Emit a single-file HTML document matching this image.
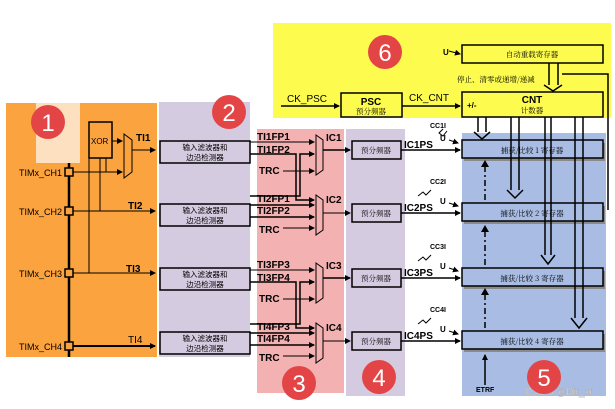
<!DOCTYPE html>
<html><head><meta charset="utf-8"><style>
html,body{margin:0;padding:0;background:#fff;width:615px;height:409px;overflow:hidden}
svg{display:block}
text{font-family:"Liberation Sans","Noto Sans CJK SC",sans-serif}
.b{font-weight:bold;font-size:10px}
.cn{font-family:"Noto Serif CJK SC","Noto Sans CJK SC",serif;font-size:7.5px}
</style></head><body>
<svg width="615" height="409" viewBox="0 0 615 409">
<defs>
<marker id="a" markerWidth="6" markerHeight="6" refX="5" refY="3" orient="auto" markerUnits="userSpaceOnUse"><path d="M0,0L6,3L0,6z" fill="#000"/></marker>
</defs>
<!-- regions -->
<rect x="6" y="103" width="151" height="254" fill="#fba33e"/>
<rect x="36" y="103" width="44" height="60" fill="#fde0c0"/>
<rect x="159" y="102" width="91" height="255" fill="#d5cbe0"/>
<rect x="273" y="23" width="338" height="95" fill="#fdfc4e"/>
<rect x="257" y="129" width="87" height="264" fill="#f3b1b1"/>
<rect x="346" y="129" width="59" height="267" fill="#d5cbe0"/>
<rect x="462" y="133" width="144" height="263" fill="#a9bde4"/>

<g stroke="#000" fill="none" stroke-width="1">
<!-- left bus -->
<line x1="69" y1="163" x2="69" y2="357" stroke-width="2.5"/>
<g fill="#fba33e" stroke-width="1.5">
<rect x="65" y="168" width="8" height="8"/><rect x="65" y="207" width="8" height="8"/>
<rect x="65" y="269" width="8" height="8"/><rect x="65" y="342" width="8" height="8"/>
</g>
<rect x="89" y="122" width="23" height="36" stroke-width="1.5"/>
<path d="M124,134 L132,140 L132,172 L124,178 Z"/>
<line x1="73" y1="172" x2="122" y2="172" marker-end="url(#a)"/>
<line x1="112" y1="141" x2="122" y2="141" marker-end="url(#a)"/>
<line x1="106" y1="158" x2="106" y2="172"/>
<line x1="100" y1="158" x2="100" y2="211"/>
<line x1="89" y1="158" x2="89" y2="273"/>
<line x1="132" y1="150" x2="155" y2="150" marker-end="url(#a)"/>
<line x1="73" y1="211" x2="155" y2="211" marker-end="url(#a)"/>
<line x1="73" y1="273" x2="155" y2="273" marker-end="url(#a)"/>
<line x1="73" y1="346" x2="155" y2="346" marker-end="url(#a)" stroke-width="2"/>
<!-- filter boxes -->
<g fill="#d5cbe0" stroke-width="1.5">
<rect x="160" y="141" width="90" height="22"/><rect x="160" y="204" width="90" height="22"/>
<rect x="160" y="268" width="90" height="22"/><rect x="160" y="332" width="90" height="22"/>
</g>
</g>
<g font-size="9" text-anchor="end">
<text x="62" y="176">TIMx_CH1</text><text x="62" y="215">TIMx_CH2</text>
<text x="62" y="277">TIMx_CH3</text><text x="62" y="350">TIMx_CH4</text>
</g>
<text x="91" y="144" font-size="8">XOR</text>
<text x="136" y="141" class="b">TI1</text><text x="128" y="209" class="b">TI2</text>
<text x="126" y="272" class="b">TI3</text><text x="128" y="343" font-size="10">TI4</text>
<g class="cn" text-anchor="middle">
<text x="205" y="150">输入滤波器和</text><text x="205" y="160">边沿检测器</text>
<text x="205" y="213">输入滤波器和</text><text x="205" y="223">边沿检测器</text>
<text x="205" y="277">输入滤波器和</text><text x="205" y="287">边沿检测器</text>
<text x="205" y="341">输入滤波器和</text><text x="205" y="351">边沿检测器</text>
</g>

<!-- channel template -->
<g id="ch">
<g stroke="#000" fill="none">
<line x1="250" y1="142" x2="314" y2="142" marker-end="url(#a)"/>
<path d="M250,154 L296,154 L296,200 L314,200" stroke-width="1.5" marker-end="url(#a)"/>
<line x1="283" y1="171" x2="314" y2="171" marker-end="url(#a)"/>
<path d="M316,135 L323,140 L323,170 L316,175 Z" fill="#f3b1b1"/>
<line x1="323" y1="150" x2="350" y2="150" stroke-width="1.5" marker-end="url(#a)"/>
<rect x="352" y="141" width="49" height="18" fill="#d5cbe0" stroke-width="1.5"/>
<line x1="401" y1="150" x2="460" y2="150" stroke-width="1.5" marker-end="url(#a)"/>
<rect x="464" y="143" width="141" height="18" fill="#8a8a8a" stroke="none"/>
<rect x="462" y="140" width="141" height="18" fill="#a9bde4" stroke-width="1.5"/>
<path d="M443,129 l-4,4 l4,3 l4,-5" />
<line x1="449" y1="140" x2="458" y2="143" marker-end="url(#a)"/>
</g>
<text x="257" y="140" class="b">TI1FP1</text>
<text x="257" y="153" class="b">TI1FP2</text>
<text x="259" y="174" class="b">TRC</text>
<text x="326" y="141" class="b">IC1</text>
<text x="404" y="148" class="b" font-size="11">IC1PS</text>
<text x="430" y="128" font-size="7" font-weight="bold">CC1I</text>
<text x="440" y="141" font-size="8" font-weight="bold">U</text>
<text x="376" y="153" class="cn" text-anchor="middle">预分频器</text>
<text x="532" y="153" class="cn" text-anchor="middle">捕获/比较 1 寄存器</text>
</g>
<g transform="translate(0,63)">
<g stroke="#000" fill="none">
<line x1="250" y1="142" x2="314" y2="142" marker-end="url(#a)" stroke-width="1.5"/>
<path d="M250,133 L300,133 L300,91 L314,91" stroke-width="1.5" marker-end="url(#a)"/>
<line x1="250" y1="154" x2="314" y2="154" stroke-width="1.5" marker-end="url(#a)"/>
<line x1="283" y1="165" x2="314" y2="165" marker-end="url(#a)"/>
<path d="M316,132 L323,137 L323,167 L316,172 Z" fill="#f3b1b1"/>
<line x1="323" y1="150" x2="350" y2="150" marker-end="url(#a)"/>
<rect x="352" y="141" width="49" height="18" fill="#d5cbe0" stroke-width="1.5"/>
<line x1="401" y1="150" x2="460" y2="150" stroke-width="1.5" marker-end="url(#a)"/>
<rect x="464" y="143" width="141" height="18" fill="#8a8a8a" stroke="none"/>
<rect x="462" y="140" width="141" height="18" fill="#a9bde4" stroke-width="1.5"/>
<path d="M418,133 l5,-4 l3,3 l5,-5"/><line x1="449" y1="140" x2="458" y2="143" marker-end="url(#a)"/>
</g>
<text x="257" y="139" class="b">TI2FP1</text><text x="257" y="151" class="b">TI2FP2</text>
<text x="259" y="170" class="b">TRC</text><text x="326" y="140" class="b">IC2</text>
<text x="404" y="148" class="b" font-size="11">IC2PS</text>
<text x="430" y="121" font-size="7" font-weight="bold">CC2I</text>
<text x="440" y="141" font-size="8" font-weight="bold">U</text>
<text x="376" y="153" class="cn" text-anchor="middle">预分频器</text>
<text x="532" y="153" class="cn" text-anchor="middle">捕获/比较 2 寄存器</text>
</g>
<g transform="translate(0,128)">
<g stroke="#000" fill="none">
<line x1="250" y1="142" x2="314" y2="142" marker-end="url(#a)"/>
<path d="M250,154 L296,154 L296,200 L314,200" stroke-width="1.5" marker-end="url(#a)"/>
<line x1="283" y1="171" x2="314" y2="171" marker-end="url(#a)"/>
<path d="M316,135 L323,140 L323,170 L316,175 Z" fill="#f3b1b1"/>
<line x1="323" y1="150" x2="350" y2="150" stroke-width="1.5" marker-end="url(#a)"/>
<rect x="352" y="141" width="49" height="18" fill="#d5cbe0" stroke-width="1.5"/>
<line x1="401" y1="150" x2="460" y2="150" stroke-width="1.5" marker-end="url(#a)"/>
<rect x="464" y="143" width="141" height="18" fill="#8a8a8a" stroke="none"/>
<rect x="462" y="140" width="141" height="18" fill="#a9bde4" stroke-width="1.5"/>
<path d="M418,133 l5,-4 l3,3 l5,-5"/><line x1="449" y1="140" x2="458" y2="143" marker-end="url(#a)"/>
</g>
<text x="257" y="140" class="b">TI3FP3</text><text x="257" y="153" class="b">TI3FP4</text>
<text x="259" y="174" class="b">TRC</text><text x="326" y="141" class="b">IC3</text>
<text x="404" y="148" class="b" font-size="11">IC3PS</text>
<text x="430" y="121" font-size="7" font-weight="bold">CC3I</text>
<text x="440" y="141" font-size="8" font-weight="bold">U</text>
<text x="376" y="153" class="cn" text-anchor="middle">预分频器</text>
<text x="532" y="153" class="cn" text-anchor="middle">捕获/比较 3 寄存器</text>
</g>
<g transform="translate(0,191)">
<g stroke="#000" fill="none">
<line x1="250" y1="142" x2="314" y2="142" marker-end="url(#a)" stroke-width="1.5"/>
<path d="M250,133 L300,133 L300,91 L314,91" stroke-width="1.5" marker-end="url(#a)"/>
<line x1="250" y1="154" x2="314" y2="154" stroke-width="1.5" marker-end="url(#a)"/>
<line x1="283" y1="165" x2="314" y2="165" marker-end="url(#a)"/>
<path d="M316,132 L323,137 L323,167 L316,172 Z" fill="#f3b1b1"/>
<line x1="323" y1="150" x2="350" y2="150" marker-end="url(#a)"/>
<rect x="352" y="141" width="49" height="18" fill="#d5cbe0" stroke-width="1.5"/>
<line x1="401" y1="150" x2="460" y2="150" stroke-width="1.5" marker-end="url(#a)"/>
<rect x="464" y="143" width="141" height="18" fill="#8a8a8a" stroke="none"/>
<rect x="462" y="140" width="141" height="18" fill="#a9bde4" stroke-width="1.5"/>
<path d="M418,133 l5,-4 l3,3 l5,-5"/><line x1="449" y1="140" x2="458" y2="143" marker-end="url(#a)"/>
</g>
<text x="257" y="139" class="b">TI4FP3</text><text x="257" y="151" class="b">TI4FP4</text>
<text x="259" y="170" class="b">TRC</text><text x="326" y="140" class="b">IC4</text>
<text x="404" y="148" class="b" font-size="11">IC4PS</text>
<text x="430" y="121" font-size="7" font-weight="bold">CC4I</text>
<text x="440" y="141" font-size="8" font-weight="bold">U</text>
<text x="376" y="153" class="cn" text-anchor="middle">预分频器</text>
<text x="532" y="153" class="cn" text-anchor="middle">捕获/比较 4 寄存器</text>
</g>

<!-- top yellow section -->
<g stroke="#000" fill="none">
<rect x="462" y="45" width="141" height="18" stroke-width="1.5"/>
<rect x="341" y="93" width="61" height="24" stroke-width="1.5"/>
<rect x="462" y="92" width="141" height="25" stroke-width="1.5"/>
<line x1="281" y1="106" x2="339" y2="106" stroke-width="1.5" marker-end="url(#a)"/>
<line x1="402" y1="106" x2="460" y2="106" stroke-width="1.5" marker-end="url(#a)"/>
<line x1="449" y1="51" x2="460" y2="54" marker-end="url(#a)"/>
<path d="M549,63 V85 M558,63 V85 M544,85 L553,91 L562,85" stroke-width="1.5"/>
<path d="M562,74 H608 V210" stroke-width="1.5"/>
<!-- double arrows down -->
<path d="M478,117 V132 M486,117 V132 M474,132 L482,139 L490,132" stroke-width="1.5"/>
<path d="M511,117 V190 M519,117 V190 M507,190 L515,198 L523,190" stroke-width="1.5"/>
<path d="M545,117 V255 M551,117 V255 M541,255 L548,264 L555,255" stroke-width="1.5"/>
<path d="M575,117 V318 M583,117 V318 M571,318 L579,328 L587,318" stroke-width="1.5"/>
<g stroke-width="1.5" stroke-dasharray="6,3,2,3">
<line x1="485" y1="200" x2="485" y2="162"/>
<line x1="485" y1="265" x2="485" y2="227"/>
<line x1="485" y1="328" x2="485" y2="290"/>
</g>
<line x1="485" y1="385" x2="485" y2="355" stroke-width="1.5" marker-end="url(#a)"/>
</g>
<g fill="#000"><path d="M481,167 l4,-7 l4,7z M481,232 l4,-7 l4,7z M481,295 l4,-7 l4,7z"/></g>
<text x="443" y="55" font-size="8" font-weight="bold">U</text>
<text x="532" y="57" class="cn" text-anchor="middle">自动重载寄存器</text>
<text x="457" y="82" class="cn">停止、清零或递增/递减</text>
<text x="287" y="102" font-size="10">CK_PSC</text>
<text x="409" y="101" font-size="10">CK_CNT</text>
<text x="371" y="105" class="b" text-anchor="middle">PSC</text>
<text x="371" y="114" class="cn" text-anchor="middle">预分频器</text>
<text x="532" y="103" class="b" text-anchor="middle" font-size="11">CNT</text>
<text x="532" y="113" class="cn" text-anchor="middle">计数器</text>
<text x="467" y="108" font-size="8" font-weight="bold">+/-</text>
<text x="476" y="392" font-size="7" font-weight="bold">ETRF</text>
<text x="525" y="395" font-size="10" fill="#e8e8e8" stroke="#999" stroke-width="0.3">CSDN @Dir_xr</text>

<!-- numbered circles -->
<g fill="#e34546">
<circle cx="48" cy="122" r="17"/><circle cx="229" cy="112" r="17"/>
<circle cx="385" cy="52" r="17"/><circle cx="299" cy="383" r="17"/>
<circle cx="379" cy="377" r="17"/><circle cx="544" cy="377" r="17"/>
</g>
<g fill="#fff" font-size="24" text-anchor="middle">
<text x="48" y="131">1</text><text x="229" y="121">2</text><text x="385" y="61">6</text>
<text x="299" y="392">3</text><text x="379" y="386">4</text><text x="544" y="386">5</text>
</g>
</svg>
</body></html>
